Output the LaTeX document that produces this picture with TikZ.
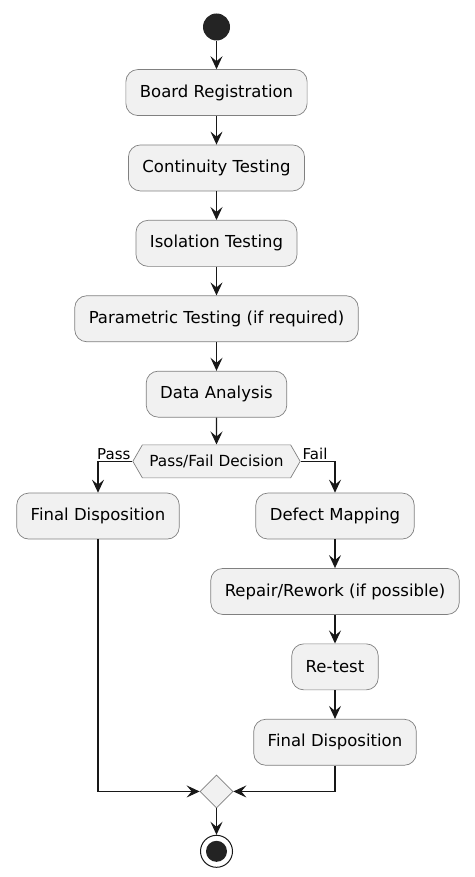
\documentclass[tikz,border=0pt]{standalone}
\usepackage{fontspec}
\setmainfont{DejaVu Sans}
\usepackage{tikz}
\usetikzlibrary{shapes,shapes.geometric,shapes.symbols,arrows.meta,positioning}
\definecolor{actfill}{RGB}{241, 241, 241}
\definecolor{actline}{RGB}{24, 24, 24}
\tikzstyle{act} = [rectangle, rounded corners=12pt, draw=actline!55, line width=0.7pt, fill=actfill, text=black, text centered, font=\fontsize{16.5}{19}\selectfont, minimum height=46pt, inner xsep=14pt]
\tikzstyle{dec} = [signal, signal to=west and east, signal pointer angle=120, draw=actline!55, line width=0.7pt, fill=actfill, text=black, font=\fontsize{15.3}{18}\selectfont, minimum height=33pt, inner xsep=7pt]
\tikzstyle{merge} = [diamond, draw=actline!55, line width=0.7pt, fill=actfill, minimum size=33pt, inner sep=0pt]
\tikzstyle{startdot} = [circle, fill=actline!95, minimum size=27pt, inner sep=0pt]
\tikzstyle{enddot} = [circle, draw=actline, line width=1pt, fill=white, minimum size=32pt, inner sep=0pt, path picture={\fill[actline!95] (path picture bounding box.center) circle (10.5pt);}]
\tikzstyle{lbl} = [font=\fontsize{15}{18}\selectfont, inner sep=1.5pt, text=black]
\tikzstyle{tedge}  = [draw, line width=1.1pt, actline, -{Stealth[length=13pt, width=12pt, inset=5pt]}]

\begin{document}
\begin{tikzpicture}[auto]
\useasboundingbox (0,0) rectangle (474pt,-877pt);

% main line =============================

\node[startdot] (start) at (216.5pt,-27pt) {};
\node[act, below=28.5pt of start] (reg) {Board Registration};
\node[act, below=28.7pt of reg] (cont) {Continuity Testing};
\node[act, below=28.7pt of cont] (iso) {Isolation Testing};
\node[act, below=28.7pt of iso] (param) {Parametric Testing (if required)};
\node[act, below=28.7pt of param] (ana) {Data Analysis};

% decision
\node[dec, below=27pt of ana] (pf) {Pass/Fail Decision};

% pass branch
\node[act, below=14.5pt of pf, xshift=-118.5pt] (fdpass) {Final Disposition};

% fail branch
\node[act, below=14.5pt of pf, xshift=118.5pt] (defect) {Defect Mapping};
\node[act, below=28.7pt of defect] (repair) {Repair/Rework (if possible)};
\node[act, below=28.7pt of repair] (retest) {Re-test};
\node[act, below=28.7pt of retest] (fdfail) {Final Disposition};

% merge and end
\coordinate (m) at (pf |- fdfail.south);
\node[merge, below=9pt of m] (mrg) {};
\node[enddot, below=26.5pt of mrg] (stop) {};

%edges
\path[tedge] (start) -- (reg);
\path[tedge] (reg) -- (cont);
\path[tedge] (cont) -- (iso);
\path[tedge] (iso) -- (param);
\path[tedge] (param) -- (ana);
\path[tedge] (ana) -- (pf);

\path[tedge] (pf.west) -| node[lbl, pos=0, anchor=south east] {Pass} (fdpass);
\path[tedge] (pf.east) -| node[lbl, pos=0, anchor=south west] {Fail} (defect);

\path[tedge] (defect) -- (repair);
\path[tedge] (repair) -- (retest);
\path[tedge] (retest) -- (fdfail);

\path[tedge] (fdpass) |- (mrg);
\path[tedge] (fdfail) |- (mrg);
\path[tedge] (mrg) -- (stop);

\end{tikzpicture}
\end{document}
